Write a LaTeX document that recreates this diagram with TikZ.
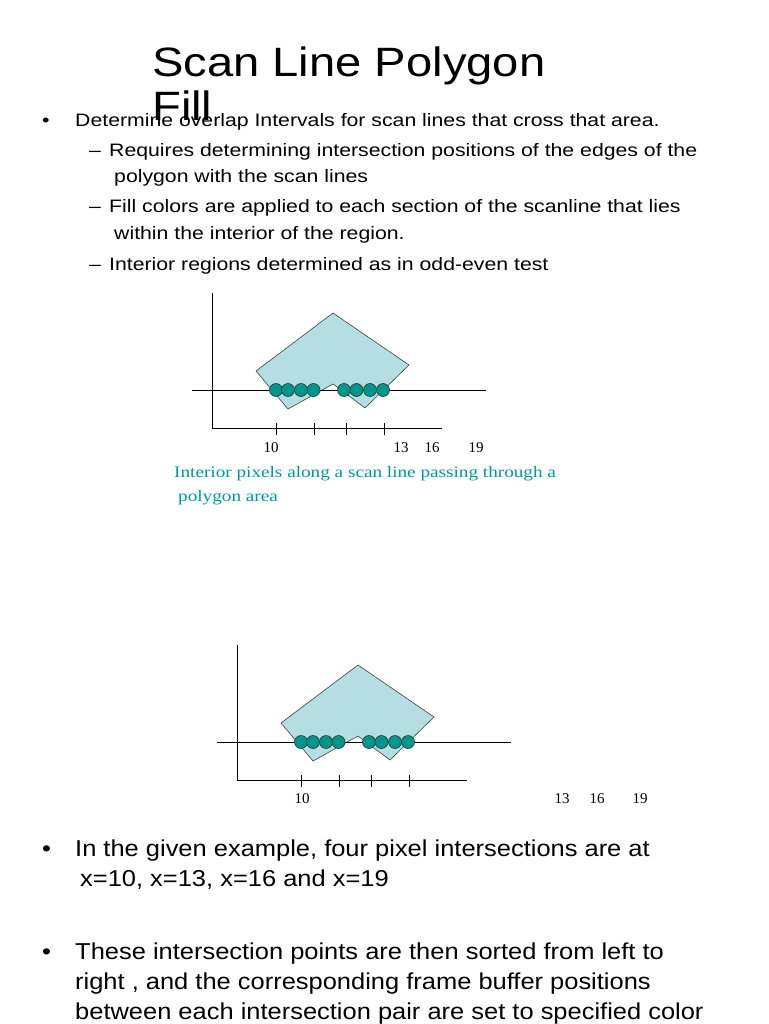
\documentclass[tikz,border=0pt]{standalone}
\usepackage{fontspec}
\setmainfont{Liberation Sans}
\newfontfamily\timesf{Liberation Serif}
\newfontfamily\stA[FakeStretch=1.15]{Liberation Sans}
\newfontfamily\stB[FakeStretch=1.18]{Liberation Sans}
\newfontfamily\stC[FakeStretch=1.107]{Liberation Sans}
\newfontfamily\stT[FakeStretch=1.2]{Liberation Serif}
\definecolor{polyfill}{RGB}{180,222,226}
\definecolor{dotfill}{RGB}{0,150,140}
\definecolor{capcol}{RGB}{0,153,153}
\begin{document}
\begin{tikzpicture}[x=1pt,y=-1pt,
  txt/.style={anchor=base west,inner sep=0pt,font=\stB\fontsize{18}{20}\selectfont},
  big/.style={anchor=base west,inner sep=0pt,font=\stC\fontsize{23}{26}\selectfont},
  num/.style={anchor=base,inner sep=0pt,font=\timesf\fontsize{15}{17}\selectfont},
  pix/.style={circle,draw=black!80,fill=dotfill,minimum size=13pt,inner sep=0pt,line width=0.6pt},
  poly/.style={draw=black!75,fill=polyfill,line width=0.6pt},
  axis/.style={draw=black,line width=0.7pt}]
\useasboundingbox (0,0) rectangle (768,1024);
\node[anchor=base west,inner sep=0pt,font=\stA\fontsize{41}{44}\selectfont] (title) at (152,77) {Scan Line Polygon};
\node[anchor=base west,inner sep=0pt,font=\stA\fontsize{41}{44}\selectfont] (title2) at (152,121) {Fill};
\node[txt] (b1) at (42,127) {•};
\node[txt] (t1) at (75,127) {Determine overlap Intervals for scan lines that cross that area.};
\node[txt] (d1) at (89,157) {–};
\node[txt] (t2) at (109,157) {Requires determining intersection positions of the edges of the};
\node[txt] (t3) at (114,183) {polygon with the scan lines};
\node[txt] (d2) at (89,213) {–};
\node[txt] (t4) at (109,213) {Fill colors are applied to each section of the scanline that lies};
\node[txt] (t5) at (114,240) {within the interior of the region.};
\node[txt] (d3) at (89,270) {–};
\node[txt] (t6) at (109,270) {Interior regions determined as in odd-even test};
\foreach \dx/\dy/\k in {0/0/a,25/352/b}{
\begin{scope}[shift={(\dx,\dy)}]
\draw[poly] (256,371) -- (333,313) -- (409,365) -- (365,408) -- (333,384) -- (288,409) -- cycle;
\draw[axis] (212,293) coordinate (ytop\k) -- (212,428) coordinate (orig\k) -- (442,428) coordinate (xend\k);
\draw[axis] (192,390) coordinate (sl\k) -- (486,390) coordinate (sr\k);
\foreach \x in {276,314,346,384}{\draw[axis] (\x,423) -- (\x,435);}
\foreach \x [count=\i] in {276,288,301,313.5,344,356.5,370,383}{\node[pix] (p\k\i) at (\x,390) {};}
\end{scope}}
\node[num] (la10) at (271,452) {10};
\node[num] (la13) at (401,452) {13};
\node[num] (la16) at (432,452) {16};
\node[num] (la19) at (476,452) {19};
\node[anchor=base west,inner sep=0pt,font=\stT\fontsize{16}{18}\selectfont,text=capcol] (c1) at (174,477) {Interior pixels along a scan line passing through a};
\node[anchor=base west,inner sep=0pt,font=\stT\fontsize{16}{18}\selectfont,text=capcol] (c2) at (178,501) {polygon area};
\node[num] (lb10) at (302,803) {10};
\node[num] (lb13) at (562,803) {13};
\node[num] (lb16) at (597,803) {16};
\node[num] (lb19) at (640,803) {19};
\node[big] (b2) at (42,856) {•};
\node[big] (u1) at (75,856) {In the given example, four pixel intersections are at};
\node[big] (u2) at (80,886) {x=10, x=13, x=16 and x=19};
\node[big] (b3) at (42,959) {•};
\node[big] (u3) at (75,959) {These intersection points are then sorted from left to};
\node[big] (u4) at (75,989) {right , and the corresponding frame buffer positions};
\node[big] (u5) at (75,1019) {between each intersection pair are set to specified color};
\end{tikzpicture}
\end{document}
